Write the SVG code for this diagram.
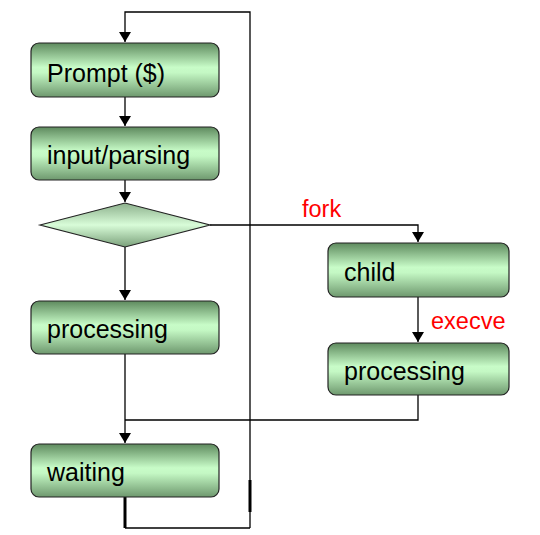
<svg xmlns="http://www.w3.org/2000/svg" width="540" height="535" viewBox="0 0 540 535">
<defs>
<linearGradient id="g" x1="0" y1="0" x2="0" y2="1">
<stop offset="0" stop-color="#5e8a5e"/>
<stop offset="0.45" stop-color="#c8fcc8"/>
<stop offset="0.55" stop-color="#c4f8c4"/>
<stop offset="1" stop-color="#6e986e"/>
</linearGradient>
<linearGradient id="gd" x1="0" y1="0" x2="0" y2="1">
<stop offset="0" stop-color="#8cb08c"/>
<stop offset="0.5" stop-color="#d8fcd8"/>
<stop offset="1" stop-color="#7aa07a"/>
</linearGradient>
<marker id="a" viewBox="0 0 10 12" refX="10" refY="6" markerWidth="10" markerHeight="12" markerUnits="userSpaceOnUse" orient="auto">
<path d="M0,0 L10,6 L0,12 Z" fill="#000"/>
</marker>
</defs>
<style>
.box{fill:url(#g);stroke:#222;stroke-width:1.2}
.dia{fill:url(#gd);stroke:#222;stroke-width:1.2}
.t{font-family:"Liberation Sans",Arial,sans-serif;font-size:25px;fill:#000}
.r{font-family:"Liberation Sans",Arial,sans-serif;font-size:23.5px;fill:#ff0000}
.c{fill:none;stroke:#000;stroke-width:1.3}
.k{fill:none;stroke:#000;stroke-width:3}
</style>
<g id="connectors">
<path class="c" d="M250,528 L250,12 L125,12 L125,42" marker-end="url(#a)"/>
<path class="c" d="M125,97 L125,126" marker-end="url(#a)"/>
<path class="c" d="M125,179 L125,202" marker-end="url(#a)"/>
<path class="c" d="M125,247 L125,300" marker-end="url(#a)"/>
<path class="c" d="M210,225 L418,225 L418,242" marker-end="url(#a)"/>
<path class="c" d="M418,297 L418,342" marker-end="url(#a)"/>
<path class="c" d="M125,354 L125,443" marker-end="url(#a)"/>
<path class="c" d="M418,395 L418,420 L125,420"/>
<path class="c" d="M125,528 L250,528"/>
<path class="k" d="M125,497 L125,528"/>
<path class="k" d="M250,480 L250,512"/>
<text class="r" x="302" y="217">fork</text>
<text class="r" x="431" y="329">execve</text>
</g>
<g id="prompt">
<rect class="box" x="31" y="43" width="188" height="54" rx="8"/>
<text class="t" x="47" y="82">Prompt ($)</text>
</g>
<g id="input">
<rect class="box" x="31" y="127" width="188" height="53" rx="8"/>
<text class="t" x="47" y="164">input/parsing</text>
</g>
<g id="decision">
<polygon class="dia" points="40,225 125,203 210,225 125,247"/>
</g>
<g id="processing1">
<rect class="box" x="31" y="301" width="188" height="53" rx="8"/>
<text class="t" x="47" y="338">processing</text>
</g>
<g id="child">
<rect class="box" x="328" y="243" width="181" height="54" rx="8"/>
<text class="t" x="344" y="281">child</text>
</g>
<g id="processing2">
<rect class="box" x="328" y="343" width="181" height="52" rx="8"/>
<text class="t" x="344" y="380">processing</text>
</g>
<g id="waiting">
<rect class="box" x="31" y="444" width="188" height="53" rx="8"/>
<text class="t" x="47" y="481">waiting</text>
</g>
</svg>
